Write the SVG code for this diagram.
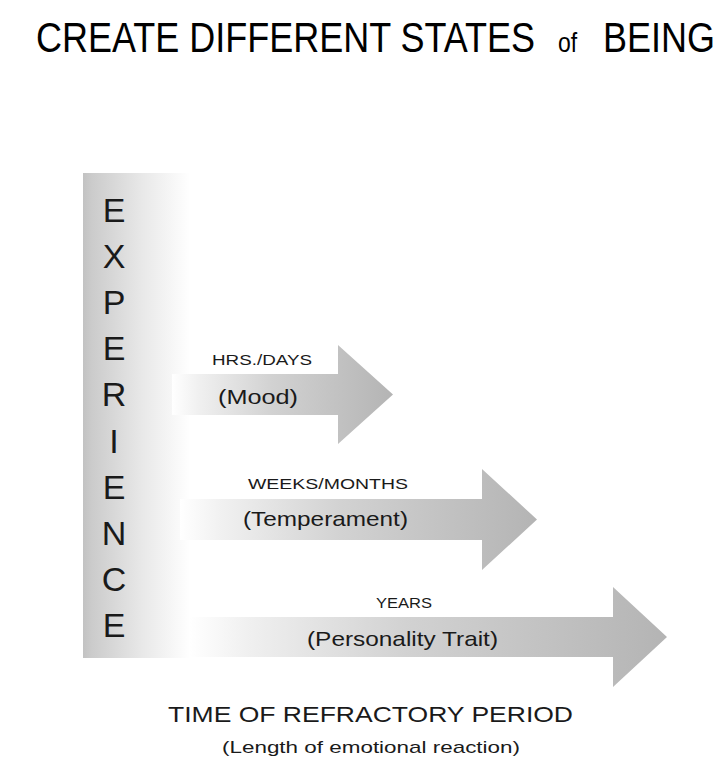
<svg xmlns="http://www.w3.org/2000/svg" width="727" height="776" viewBox="0 0 727 776">
  <defs>
    <linearGradient id="barGrad" x1="0" y1="0" x2="1" y2="0">
      <stop offset="0" stop-color="#c2c2c2"/>
      <stop offset="0.08" stop-color="#cbcbcb"/>
      <stop offset="0.55" stop-color="#e8e8e8"/>
      <stop offset="1" stop-color="#ffffff"/>
    </linearGradient>
    <linearGradient id="arrGrad" x1="0" y1="0" x2="1" y2="0">
      <stop offset="0" stop-color="#ffffff"/>
      <stop offset="0.12" stop-color="#f0f0f0"/>
      <stop offset="0.45" stop-color="#d2d2d2"/>
      <stop offset="1" stop-color="#b4b4b4"/>
    </linearGradient>
    <style>
      text { font-family: "Liberation Sans", Arial, sans-serif; fill: #1a1a1a; }
      .title { font-size: 36px; fill: #000; }
      .small { font-size: 23px; fill: #000; }
      .letter { font-size: 34px; text-anchor: middle; }
      .time { font-size: 15px; }
      .state { font-size: 21px; }
      .axis { font-size: 22px; }
      .axis2 { font-size: 17px; }
      .arrow { fill: url(#arrGrad); }
    </style>
  </defs>
  <rect width="727" height="776" fill="#ffffff"/>

  <g id="title" transform="scale(1,1.17)">
    <text class="title" x="36" y="44.4">CREATE DIFFERENT STATES</text>
    <text class="small" x="558" y="44.4">of</text>
    <text class="title" x="603" y="44.4">BEING</text>
  </g>

  <g id="experience">
    <rect x="83" y="173" width="107" height="485" fill="url(#barGrad)"/>
    <text class="letter" x="114" y="222">E</text>
    <text class="letter" x="114" y="268">X</text>
    <text class="letter" x="114" y="314">P</text>
    <text class="letter" x="114" y="360">E</text>
    <text class="letter" x="114" y="406">R</text>
    <text class="letter" x="114" y="453">I</text>
    <text class="letter" x="114" y="499">E</text>
    <text class="letter" x="114" y="545">N</text>
    <text class="letter" x="114" y="591">C</text>
    <text class="letter" x="114" y="637">E</text>
  </g>

  <g id="connectors">
    <g id="mood">
      <polygon class="arrow" points="172,374 338,374 338,345 393,394.5 338,444 338,415 172,415"/>
      <text class="time" x="212" y="365" textLength="100" lengthAdjust="spacingAndGlyphs">HRS./DAYS</text>
      <text class="state" x="218" y="404" textLength="80" lengthAdjust="spacingAndGlyphs">(Mood)</text>
    </g>
    <g id="temperament">
      <polygon class="arrow" points="180,499 482,499 482,469 537,519.5 482,570 482,540 180,540"/>
      <text class="time" x="248" y="489" textLength="160" lengthAdjust="spacingAndGlyphs">WEEKS/MONTHS</text>
      <text class="state" x="243" y="526" textLength="165" lengthAdjust="spacingAndGlyphs">(Temperament)</text>
    </g>
    <g id="personality">
      <polygon class="arrow" points="190,617 613,617 613,587 667,637 613,687 613,657 190,657"/>
      <text class="time" x="376" y="608" textLength="56" lengthAdjust="spacingAndGlyphs">YEARS</text>
      <text class="state" x="307" y="646" textLength="191" lengthAdjust="spacingAndGlyphs">(Personality Trait)</text>
    </g>
  </g>

  <g id="axis-label">
    <text class="axis" x="168" y="722" textLength="405" lengthAdjust="spacingAndGlyphs">TIME OF REFRACTORY PERIOD</text>
    <text class="axis2" x="222" y="753" textLength="298" lengthAdjust="spacingAndGlyphs">(Length of emotional reaction)</text>
  </g>
</svg>
